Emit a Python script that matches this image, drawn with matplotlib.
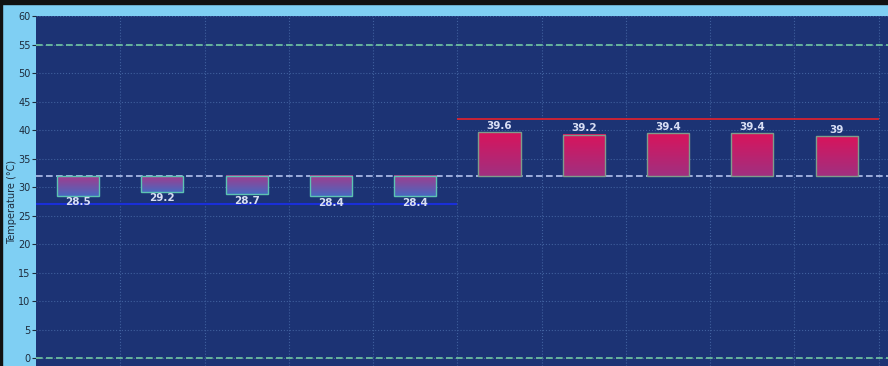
import matplotlib.pyplot as plt
import numpy as np
from matplotlib.colors import LinearSegmentedColormap
from matplotlib.patches import Rectangle

# data
temps = [28.5, 29.2, 28.7, 28.4, 28.4, 39.6, 39.2, 39.4, 39.4, 39]
labels = ['28.5', '29.2', '28.7', '28.4', '28.4', '39.6', '39.2', '39.4', '39.4', '39']
base = 32
low_limit = 27
high_limit = 42
upper_ref = 55
zero_ref = 0

x = np.arange(len(temps))
heights = [t - base for t in temps]

fig = plt.figure(figsize=(8.88, 3.66), dpi=100)
fig.patch.set_facecolor('#7fcff3')
ax = fig.add_axes([36 / 888, 0, 1 - 36 / 888, 1 - 16 / 366])
ax.set_facecolor('#1c3374')

ax.set_xlim(-0.5, 9.61)
ax.set_ylim(-1.4, 60)
ax.set_yticks(np.arange(0, 61, 5))
ax.set_xticks(np.arange(0.5, 10, 1))
ax.tick_params(axis='x', length=0, labelbottom=False)
ax.tick_params(axis='y', labelsize=7, colors='#1d2b3c', length=3, pad=1)
ax.grid(True, color='#40609e', linestyle=':', linewidth=0.8)
ax.set_axisbelow(True)
for s in ax.spines.values():
    s.set_visible(False)

ax.set_ylabel('Temperature (°C)', fontsize=7, color='#1d2b3c')
ax.yaxis.set_label_coords(-0.022, 0.47)

# reference lines
ax.axhline(upper_ref, color='#72c8a2', linestyle='--', linewidth=1.2, dashes=(4, 2))
ax.axhline(zero_ref, color='#72c8a2', linestyle='--', linewidth=1.2, dashes=(4, 2))
ax.axhline(base, color='#b4c2ee', linestyle='--', linewidth=1.2, dashes=(4, 2))
ax.hlines(low_limit, -0.5, 4.5, color='#1a2fd8', linewidth=1.5)
ax.hlines(high_limit, 4.5, 9.5, color='#e8202a', linewidth=1.2)

# bars with gradient
edges = ['#5cc4b2' if h < 0 else '#7e9c8c' for h in heights]
bars = ax.bar(x, heights, bottom=base, width=0.5, facecolor='none',
              edgecolor=edges, linewidth=1.0, zorder=4)
cool = LinearSegmentedColormap.from_list('cool', ['#4868c0', '#a23c8c'])
hot = LinearSegmentedColormap.from_list('hot', ['#a03080', '#d8145c'])
grad = np.linspace(0, 1, 64).reshape(-1, 1)
for b, h, lab in zip(bars, heights, labels):
    x0, y0 = b.get_x(), b.get_y()
    w, hh = b.get_width(), b.get_height()
    y_lo, y_hi = min(y0, y0 + hh), max(y0, y0 + hh)
    cmap = hot if h > 0 else cool
    ax.imshow(grad, extent=(x0, x0 + w, y_lo, y_hi), origin='lower',
              aspect='auto', cmap=cmap, zorder=3)
    if h > 0:
        ax.text(x0 + w / 2, y_hi + 0.2, lab, ha='center', va='bottom',
                fontsize=7.5, fontweight='bold', color='#d8def4', zorder=5)
    else:
        ax.text(x0 + w / 2, y_lo - 0.3, lab, ha='center', va='top',
                fontsize=7.5, fontweight='bold', color='#d8def4', zorder=5)
ax.set_xlim(-0.5, 9.61)
ax.set_ylim(-1.4, 60)

# dark frame at top and left
fig.patches.append(Rectangle((0, 1 - 4 / 366), 1, 4 / 366, transform=fig.transFigure,
                             color='#111111', zorder=10))
fig.patches.append(Rectangle((0, 0), 2 / 888, 1, transform=fig.transFigure,
                             color='#111111', zorder=10))

fig.savefig('out.png', dpi=100, facecolor=fig.get_facecolor())
